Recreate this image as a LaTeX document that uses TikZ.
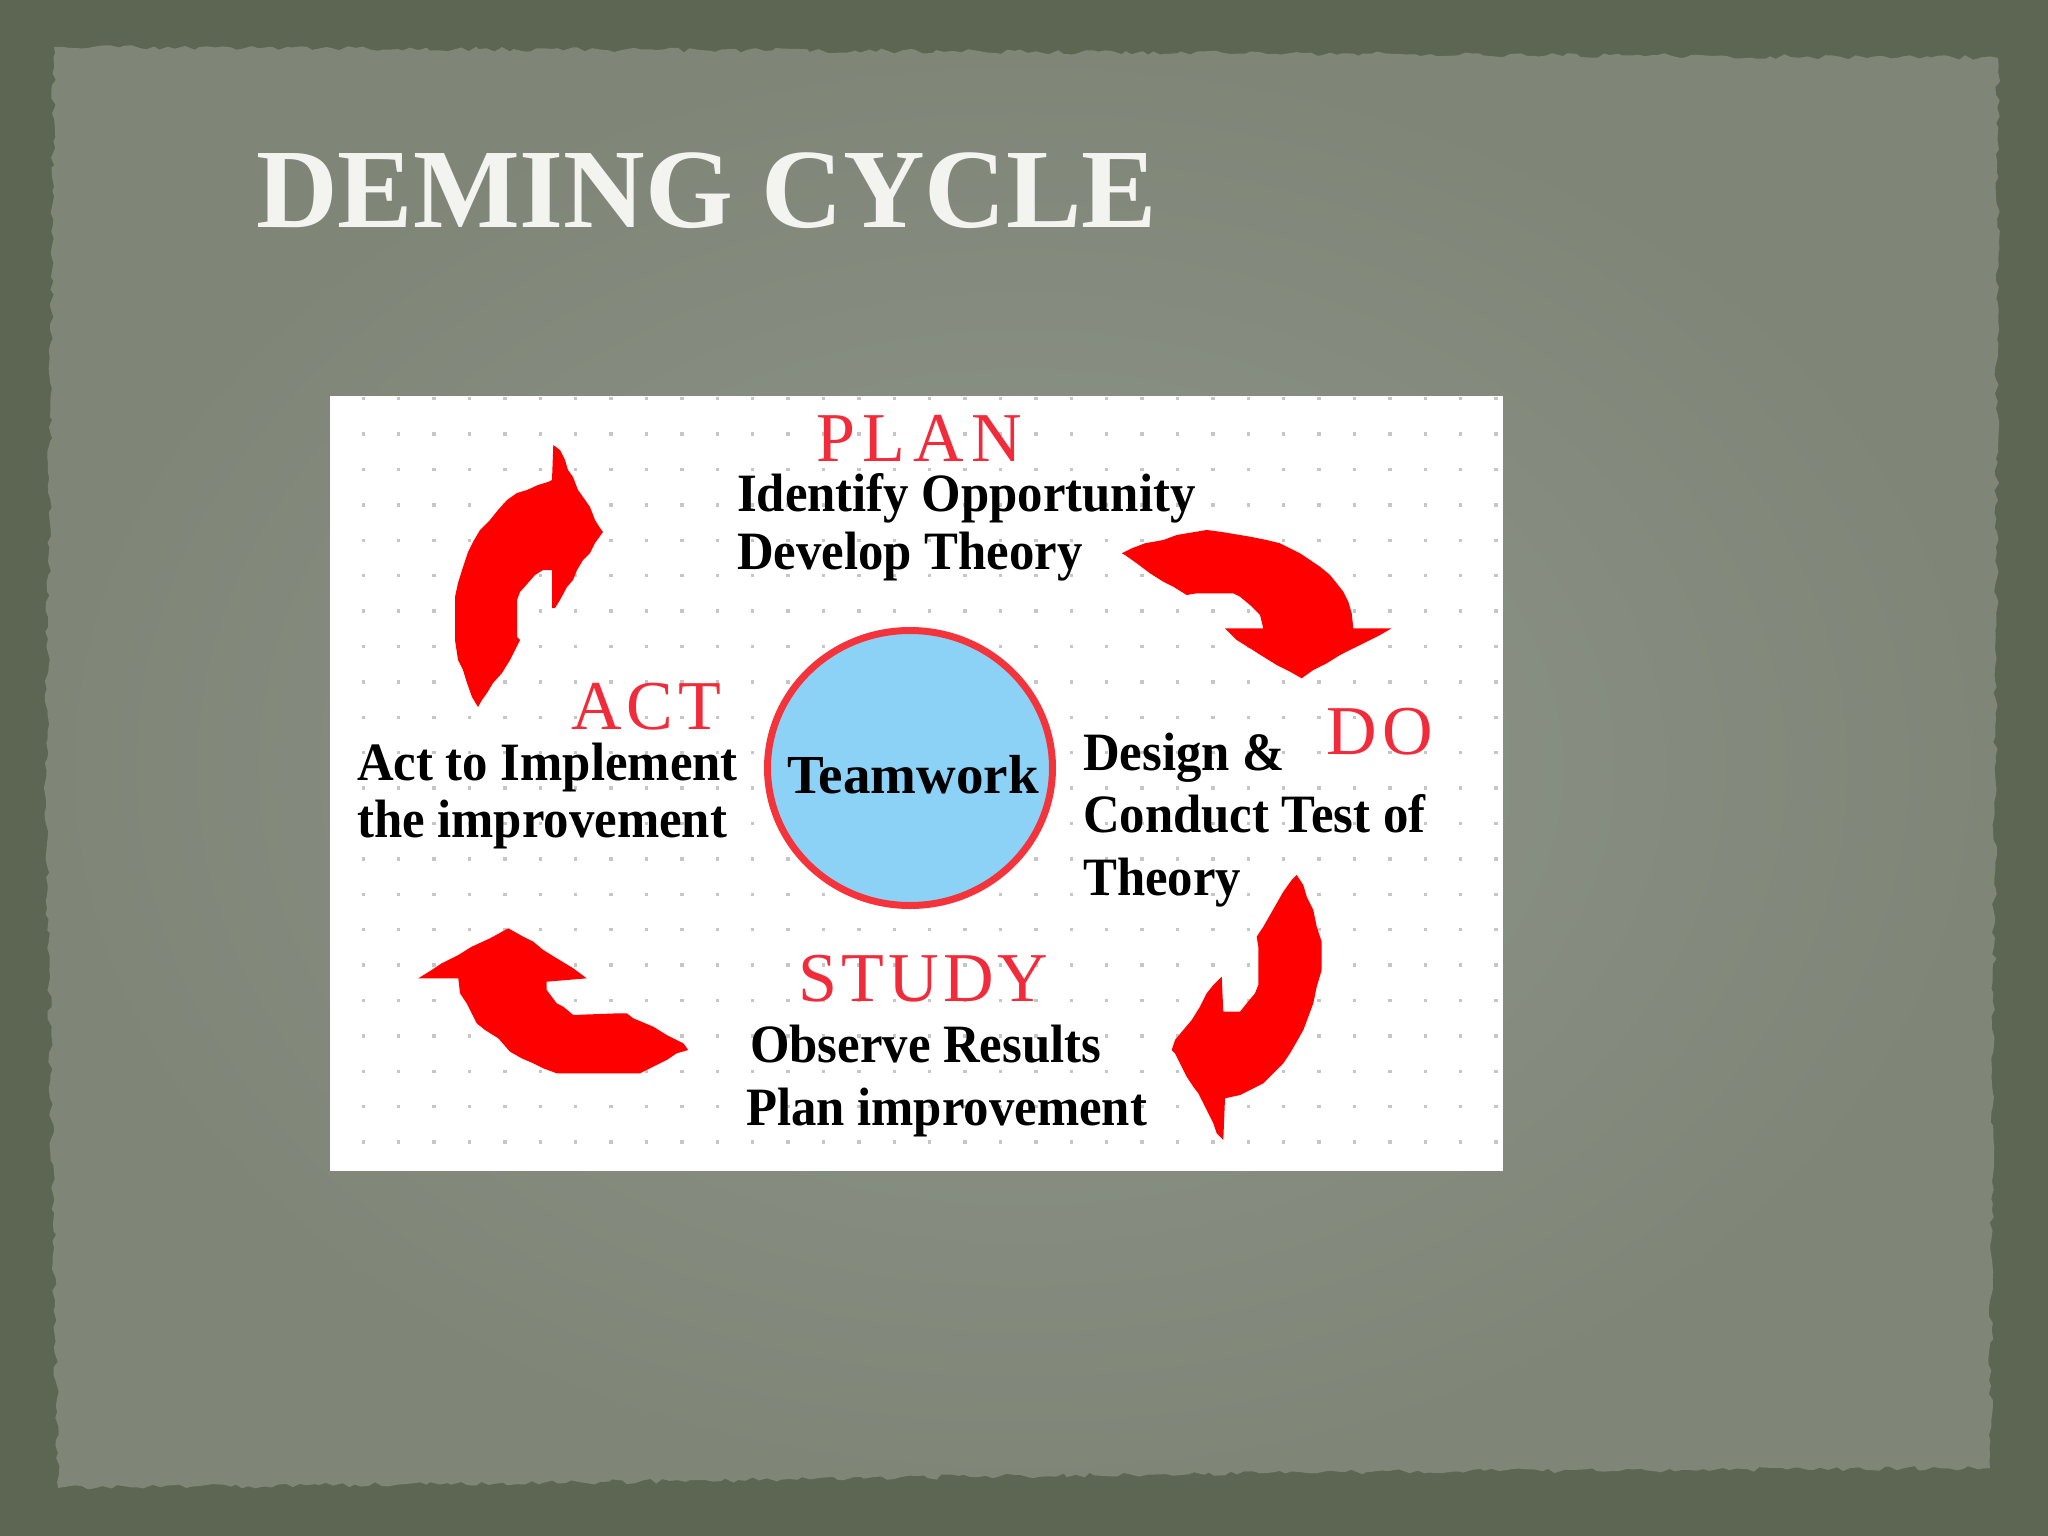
\documentclass[tikz,border=0pt]{standalone}
\usepackage{fontspec}
\setmainfont{Liberation Serif}
\newfontfamily\blkfont[FakeStretch=0.94]{Liberation Serif}
\usetikzlibrary{decorations.pathmorphing,shapes.geometric}
\definecolor{bgdark}{HTML}{5D6652}
\definecolor{paperc}{HTML}{7F8678}
\definecolor{paperin}{HTML}{8F968B}
\definecolor{arrowred}{HTML}{FF0000}
\definecolor{labelred}{HTML}{F22B3A}
\definecolor{dotgray}{HTML}{C6C6C6}
\definecolor{teamblue}{HTML}{8CD2F6}
\definecolor{ringred}{HTML}{F5333B}
\definecolor{titlewhite}{HTML}{F3F3EF}
\begin{document}
\begin{tikzpicture}[x=1pt,y=-1pt,
  blktext/.style={anchor=base west, inner sep=0pt, text=black, text height=37pt,
    font=\blkfont\bfseries\fontsize{54}{54}\selectfont},
  redlabel/.style={anchor=base west, inner sep=0pt, text=labelred, text depth=0pt},
  cyclearrow/.style={fill=arrowred}]
\useasboundingbox (0,0) rectangle (2048,1536);
% background
\fill[bgdark] (0,0) rectangle (2048,1536);
\pgfmathsetseed{11}
\shade[inner color=paperin, outer color=paperc, decorate,
  decoration={random steps, segment length=7pt, amplitude=2.5pt}]
  (54,47) -- (700,50) -- (1400,54) -- (1998,58) -- (1996,700) -- (1990,1468)
  -- (1300,1472) -- (600,1482) -- (58,1488) -- (46,800) -- cycle;
% title
\node[name=title, anchor=base west, inner sep=0pt, text=titlewhite,
  font=\bfseries\fontsize{113}{113}\selectfont] at (256,227) {DEMING CYCLE};
% white panel
\node[name=panel, fill=white, minimum width=1173pt, minimum height=775pt,
  inner sep=0pt, anchor=north west] at (330,396) {};
\foreach \i in {0,...,32}
  \foreach \j in {0,...,21}
    \fill[dotgray] ({361.5+35.4*\i},{396.9+35.4*\j}) rectangle ++(3.4,3.4);
% centre circle
\node[name=team, ellipse, draw=ringred, line width=7pt, fill=teamblue,
  minimum width=285pt, minimum height=275pt, inner sep=0pt] at (910,768) {};
\node[name=teamtext, anchor=base west, inner sep=0pt,
  font=\bfseries\fontsize{55}{55}\selectfont] at (787,793) {Teamwork};
% arrows
\fill[cyclearrow] (553.3,445) -- (560,450) -- (565,460) -- (568,470) -- (573,477)
  -- (578,490) -- (583,497) -- (590,507) -- (595,520) -- (600,528) -- (603,532)
  -- (595,543) -- (590,553) -- (583,560) -- (577,570) -- (573,580) -- (567,587)
  -- (560,600) -- (555,608) -- (552,608) -- (552,570) -- (543,570) -- (535,575)
  -- (528,583) -- (520,592) -- (517,600) -- (517,637) -- (520,640) -- (515,650)
  -- (510,660) -- (502,673) -- (493,683) -- (487,693) -- (482,700) -- (478,707)
  -- (472,697) -- (467,683) -- (463,670) -- (458,660) -- (455,640) -- (455,597)
  -- (458,583) -- (463,567) -- (468,552) -- (473,542) -- (480,530) -- (490,520)
  -- (498,510) -- (507,500) -- (517,493) -- (527,490) -- (538,485) -- (548,482)
  -- (552,480) -- cycle;
\fill[cyclearrow] (1121.7,553.3) -- (1131.7,548.3) -- (1145,543.3) -- (1163.3,540)
  -- (1176.7,535) -- (1206.7,530) -- (1220,531.7) -- (1250,536.7) -- (1266.7,540)
  -- (1280,543.3) -- (1290,548.3) -- (1300,553.3) -- (1310,560) -- (1320,566.7)
  -- (1330,575) -- (1336.7,583.3) -- (1343.3,591.7) -- (1348.3,601.7)
  -- (1351.7,613.3) -- (1353.3,628.3) -- (1391.7,628.3) -- (1380,635)
  -- (1366.7,641.7) -- (1353.3,648.3) -- (1340,655) -- (1326.7,663.3)
  -- (1313.3,670) -- (1301.7,678.3) -- (1290,671.7) -- (1276.7,665)
  -- (1263.3,656.7) -- (1250,648.3) -- (1236.7,640) -- (1225,628.3)
  -- (1263.3,628.3) -- (1260,615) -- (1250,605) -- (1240,596.7) -- (1233.3,593.3)
  -- (1196.7,593.3) -- (1186.7,595) -- (1173.3,586.7) -- (1163.3,581.7)
  -- (1150,573.3) -- (1136.7,563.3) -- (1125,555) -- cycle;
\fill[cyclearrow] (1296.7,875) -- (1303.3,885) -- (1306.7,896.7) -- (1313.3,910)
  -- (1316.7,926.7) -- (1321.7,941.7) -- (1321.7,970) -- (1316.7,986.7)
  -- (1313.3,1003.3) -- (1308.3,1016.7) -- (1303.3,1030) -- (1296.7,1041.7)
  -- (1290,1053.3) -- (1283.3,1063.3) -- (1273.3,1073.3) -- (1263.3,1083.3)
  -- (1250,1090) -- (1240,1095) -- (1225,1098.3) -- (1223.3,1140)
  -- (1216.7,1133.3) -- (1213.3,1123.3) -- (1208.3,1113.3) -- (1203.3,1103.3)
  -- (1198.3,1093.3) -- (1193.3,1086.7) -- (1186.7,1076.7) -- (1180,1063.3)
  -- (1175,1053.3) -- (1171.7,1050) -- (1175,1040) -- (1183.3,1030)
  -- (1191.7,1020) -- (1200,1006.7) -- (1206.7,993.3) -- (1213.3,985)
  -- (1221.7,976.7) -- (1223.3,1011.7) -- (1240,1011.7) -- (1246.7,1003.3)
  -- (1255,993.3) -- (1258.3,985) -- (1258.3,946.7) -- (1256.7,936.7)
  -- (1263.3,926.7) -- (1270,915) -- (1276.7,903.3) -- (1283.3,891.7)
  -- (1291.7,880) -- cycle;
\fill[cyclearrow] (508.3,928.3) -- (490,938.3) -- (471.7,946.7) -- (458.3,955)
  -- (441.7,963.3) -- (431.7,970) -- (418.3,978.3) -- (458.3,978.3)
  -- (460,993.3) -- (466.7,1003.3) -- (471.7,1013.3) -- (476.7,1023.3)
  -- (485,1030) -- (498.3,1038.3) -- (510,1051.7) -- (521.7,1058.3)
  -- (533.3,1063.3) -- (543.3,1068.3) -- (556.7,1073.3) -- (640,1073.3)
  -- (653.3,1066.7) -- (666.7,1060) -- (676.7,1053.3) -- (688.3,1050)
  -- (683.3,1043.3) -- (666.7,1035) -- (653.3,1026.7) -- (633.3,1018.3)
  -- (626.7,1013.3) -- (618.3,1013.3) -- (573.3,1015) -- (563.3,1006.7)
  -- (556.7,1003.3) -- (551.7,996.7) -- (546.7,990) -- (546.7,981.7)
  -- (586.7,978.3) -- (573.3,968.3) -- (556.7,958.3) -- (543.3,950)
  -- (533.3,941.7) -- (523.3,936.7) -- cycle;
% red labels
\node[name=plan, redlabel, font={\fontsize{70}{70}\selectfont\addfontfeature{LetterSpace=11}}] at (816,461) {PLAN};
\node[name=act, redlabel, font={\fontsize{70}{70}\selectfont\addfontfeature{LetterSpace=7}}] at (571,729) {ACT};
\node[name=do, redlabel, font={\fontsize{70}{70}\selectfont\addfontfeature{LetterSpace=8}}] at (1326,754) {DO};
\node[name=study, redlabel, font={\fontsize{70}{70}\selectfont\addfontfeature{LetterSpace=6}}] at (798,1001) {STUDY};
% black texts
\node[name=plan1, blktext] at (737,511) {Identify Opportunity};
\node[name=plan2, blktext] at (737,569) {Develop Theory};
\node[name=act1, blktext] at (357,780) {Act to Implement};
\node[name=act2, blktext] at (357,837) {the improvement};
\node[name=do1, blktext] at (1083,770) {Design \&};
\node[name=do2, blktext] at (1083,832) {Conduct Test of};
\node[name=do3, blktext] at (1083,895) {Theory};
\node[name=study1, blktext] at (750,1062) {Observe Results};
\node[name=study2, blktext] at (746,1125) {Plan improvement};
\end{tikzpicture}
\end{document}
